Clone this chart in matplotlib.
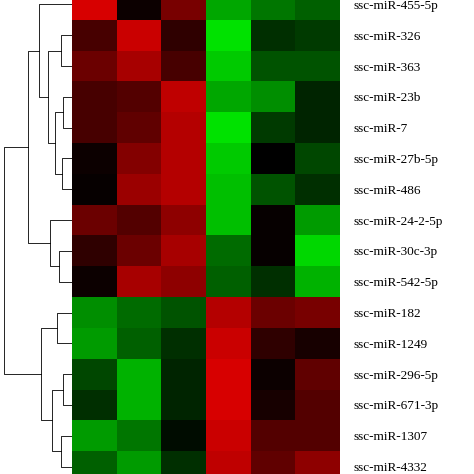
import numpy as np
import matplotlib.pyplot as plt
from matplotlib.colors import LinearSegmentedColormap

rows = ["ssc-miR-455-5p","ssc-miR-326","ssc-miR-363","ssc-miR-23b","ssc-miR-7",
        "ssc-miR-27b-5p","ssc-miR-486","ssc-miR-24-2-5p","ssc-miR-30c-3p","ssc-miR-542-5p",
        "ssc-miR-182","ssc-miR-1249","ssc-miR-296-5p","ssc-miR-671-3p","ssc-miR-1307","ssc-miR-4332"]
values = np.array([
 [0.9,0.05,0.5,-0.7,-0.5,-0.4],
 [0.3,0.85,0.2,-0.95,-0.2,-0.25],
 [0.45,0.7,0.3,-0.85,-0.35,-0.35],
 [0.3,0.35,0.8,-0.7,-0.6,-0.15],
 [0.3,0.4,0.75,-0.95,-0.25,-0.15],
 [0.05,0.55,0.75,-0.85,0.0,-0.3],
 [0.03,0.65,0.75,-0.8,-0.35,-0.2],
 [0.45,0.35,0.6,-0.8,0.03,-0.65],
 [0.2,0.45,0.7,-0.45,0.03,-0.9],
 [0.05,0.7,0.6,-0.4,-0.2,-0.75],
 [-0.6,-0.45,-0.35,0.75,0.45,0.5],
 [-0.65,-0.4,-0.2,0.85,0.2,0.1],
 [-0.3,-0.75,-0.15,0.9,0.05,0.4],
 [-0.2,-0.75,-0.15,0.9,0.1,0.35],
 [-0.65,-0.5,-0.05,0.85,0.35,0.35],
 [-0.4,-0.65,-0.2,0.8,0.4,0.6]])
# merges: (left, right, height); new cluster ids start at 16
merges = [(1,2,10),(3,4,8),(5,6,9),(17,18,16),(16,19,22),(0,20,30),(8,9,12),(7,22,20),
          (21,23,40),(12,13,8),(14,15,10),(25,26,18),(10,11,14),(28,27,28),(24,29,62)]

cmap = LinearSegmentedColormap.from_list("rbg", ["#00ee00","#000000","#ee0000"])
fig = plt.figure(figsize=(4.74,4.74), dpi=100)
n = len(rows)
bottom = 1-482/474; height = 493/474
ax = fig.add_axes([72/474, bottom, 268/474, height])
ax.imshow(values, cmap=cmap, vmin=-1, vmax=1, aspect='auto', interpolation='nearest')
ax.set_xticks([])
ax.yaxis.tick_right()
ax.set_yticks(range(n))
ax.set_yticklabels(rows, family="Liberation Serif", fontsize=9.5)
ax.tick_params(axis='y', length=0, pad=10)
for s in ax.spines.values(): s.set_visible(False)

dax = fig.add_axes([0, bottom, 72/474, height])
pos = {i:(float(i),0.0) for i in range(n)}
for k,(a,b,h) in enumerate(merges):
    ya,ha = pos[a]; yb,hb = pos[b]
    dax.plot([ha,h,h,hb],[ya,ya,yb,yb], color='black', lw=0.6)
    pos[n+k] = ((ya+yb)/2, h)
dax.set_ylim(n-0.5,-0.5)
dax.set_xlim(66,0)
dax.axis('off')
fig.savefig("out.png", dpi=100)
